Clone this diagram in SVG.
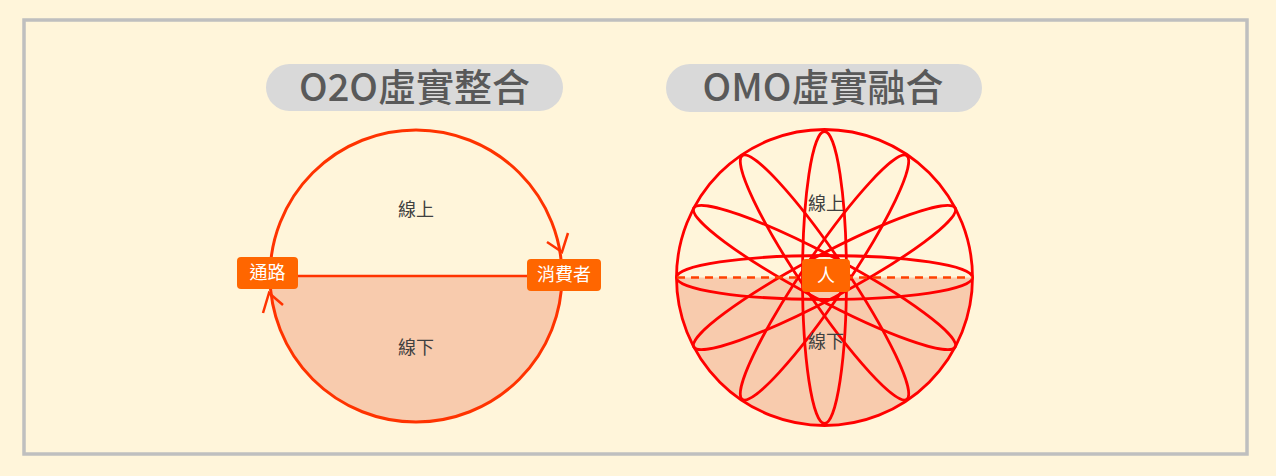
<svg xmlns="http://www.w3.org/2000/svg" width="1276" height="476" viewBox="0 0 1276 476">
<style>
.title{font-family:"Noto Sans CJK TC","Noto Sans",sans-serif;font-size:38px;font-weight:500;fill:#595959;text-anchor:middle}
.lbl{font-family:"Noto Sans CJK TC","Noto Sans",sans-serif;font-size:18px;fill:#404040;text-anchor:middle}
.box{fill:#FF6600}
.boxt{font-family:"Noto Sans CJK TC","Noto Sans",sans-serif;font-size:18px;fill:#FFFFFF;text-anchor:middle}
.pill{fill:#D9D9D9}
.half{fill:#F8CBAD}
.orb{fill:none;stroke:#FF0000;stroke-width:2.8}
</style>
<rect x="0" y="0" width="1276" height="476" fill="#FFF5DA"/>
<rect x="24" y="20" width="1223" height="434" fill="#FFF5DA" stroke="#BFBFBF" stroke-width="3.5"/>

<g id="title-o2o">
<rect class="pill" x="266" y="64" width="297" height="47" rx="23.5"/>
<text class="title" x="414.5" y="101">O2O虛實整合</text>
</g>
<g id="title-omo">
<rect class="pill" x="666" y="64" width="316" height="48" rx="24"/>
<text class="title" x="823" y="101">OMO虛實融合</text>
</g>

<g id="o2o-circle">
<path class="half" d="M270,276 A146,146 0 0 0 562,276 Z"/>
<circle cx="416" cy="276" r="146" fill="none" stroke="#FF3300" stroke-width="3"/>
<text class="lbl" x="416" y="216">線上</text>
<text class="lbl" x="416" y="354">線下</text>
</g>

<g id="connectors">
<line x1="298" y1="276" x2="527" y2="276" stroke="#FF3300" stroke-width="2.5"/>
<path d="M547,242 L562,252 L568,233" fill="none" stroke="#FF3300" stroke-width="2.5"/>
<path d="M263,313 L269,293 L283,305" fill="none" stroke="#FF3300" stroke-width="2.5"/>
</g>

<g id="node-channel">
<rect class="box" x="237" y="257" width="61" height="32" rx="4"/>
<text class="boxt" x="267.5" y="279">通路</text>
</g>
<g id="node-consumer">
<rect class="box" x="527" y="259" width="74" height="32" rx="4"/>
<text class="boxt" x="564" y="281">消費者</text>
</g>

<g id="omo-sphere">
<path class="half" d="M676.5,277.5 A148,148 0 0 0 972.5,277.5 Z"/>
<g transform="translate(824.5,277.5)">
<ellipse class="orb" cx="0" cy="0" rx="148" ry="22"/>
<ellipse class="orb" cx="0" cy="0" rx="148" ry="22" transform="rotate(28)"/>
<ellipse class="orb" cx="0" cy="0" rx="147" ry="22" transform="rotate(56)"/>
<ellipse class="orb" cx="0" cy="0" rx="146" ry="22" transform="rotate(90)"/>
<ellipse class="orb" cx="0" cy="0" rx="147" ry="22" transform="rotate(124)"/>
<ellipse class="orb" cx="0" cy="0" rx="148" ry="22" transform="rotate(152)"/>
</g>
<circle class="orb" cx="824.5" cy="277.5" r="148"/>
<line x1="677" y1="277.5" x2="972" y2="277.5" stroke="#FF4000" stroke-width="2.5" stroke-dasharray="8 6"/>
<text class="lbl" x="826" y="210">線上</text>
<text class="lbl" x="826" y="348">線下</text>
</g>

<g id="node-person">
<rect class="box" x="802" y="259" width="48" height="33" rx="4"/>
<text class="boxt" x="826" y="282">人</text>
</g>
</svg>
